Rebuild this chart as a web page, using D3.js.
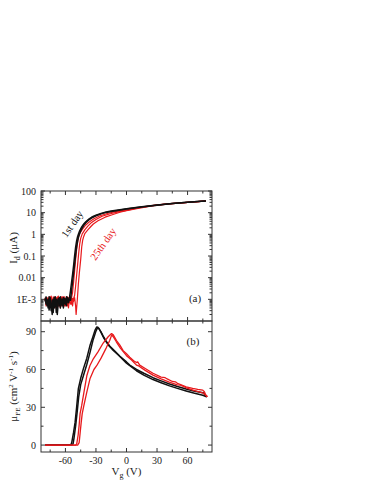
<!DOCTYPE html>
<html>
<head>
<meta charset="utf-8">
<script src="https://cdn.jsdelivr.net/npm/d3@7"></script>
<style>
  body { margin: 0; background: #fff; }
  text { font-family: "Liberation Serif", "DejaVu Serif", serif; fill: #222; }
</style>
</head>
<body>
<div id="chart"></div>
<script>
// gate voltage ticks
var xMajor = [-60, -30, 0, 30, 60];
var xMinor = [-75, -45, -15, 15, 45, 75];
var idTicks = [1e-3, 0.01, 0.1, 1, 10, 100];
var idTickLabels = ["1E-3", "0.01", "0.1", "1", "10", "100"];
var muMajor = [0, 30, 60, 90];
var muMinor = [15, 45, 75];

// (a) transfer curves, [Vg (V), Id (uA)]
var idBlackA = [[-80,8e-4],[-79,1.3e-3],[-78,5e-4],[-77,1e-3],[-76,3.2e-4],[-75,1.2e-3],[-74,6e-4],[-73,2e-4],[-72,1e-3],[-71,4e-4],[-70,1.3e-3],[-69,2.5e-4],[-68,8e-4],[-67,1.1e-3],[-66,5e-4],[-65,1.3e-3],[-64,6e-4],[-63,1e-3],[-62,4e-4],[-61,1.1e-3],[-60,6e-4],[-59,1.3e-3],[-58,8e-4],[-57,1e-3],[-56,1.2e-3],
  [-55,2.5e-3],[-54,6e-3],[-53,0.014],[-52,0.035],[-51,0.1],[-50,0.25],[-49,0.5],[-48,0.8],[-47,1.1],[-46,1.45],[-44,2.2],[-42,3.0],[-40,3.8],[-37,5.0],[-34,6.3],[-30,7.6],[-25,9.3],[-20,10.8],[-15,11.8],[-10,12.8],[-3,14.5],[0,15.3],[13,18.5],[30,22.5],[45,26.5],[60,30],[70,32.5],[78,35]];
var idBlackB = [[-80,1.1e-3],[-79,6e-4],[-78,9e-4],[-77,4e-4],[-76,1.3e-3],[-75,7e-4],[-74,3e-4],[-73,9e-4],[-72,2.5e-4],[-71,1.2e-3],[-70,5e-4],[-69,1e-3],[-68,2e-4],[-67,7e-4],[-66,1.2e-3],[-65,4e-4],[-64,1e-3],[-63,5e-4],[-62,1.2e-3],[-61,7e-4],[-60,1e-3],[-59,5e-4],[-58,1.2e-3],[-57,7e-4],[-56,1e-3],[-55,9e-4],
  [-54,2.5e-3],[-53,6e-3],[-52,0.016],[-51,0.04],[-50,0.11],[-49,0.27],[-48,0.5],[-47,0.8],[-46,1.1],[-44,1.8],[-42,2.6],[-40,3.4],[-37,4.6],[-34,5.8],[-30,7.2],[-25,8.8],[-20,10.3],[-15,11.4],[-10,12.4],[-3,14],[0,14.8],[13,18],[30,22.2],[45,26.3],[60,30],[70,32.5],[78,35]];
var idRedA = [[-80,1.2e-3],[-79,5e-4],[-78,1e-3],[-77,7e-4],[-76,1.3e-3],[-75,5e-4],[-74,1.1e-3],[-73,6e-4],[-72,1.3e-3],[-71,7e-4],[-70,4e-4],[-69,1.2e-3],[-68,6e-4],[-67,1.4e-3],[-66,8e-4],[-65,4e-4],[-64,1.2e-3],[-63,7e-4],[-62,1.3e-3],[-61,5e-4],[-60,1.1e-3],[-59,7e-4],[-58,1.3e-3],[-57,4e-4],[-56,1e-3],[-55,1.3e-3],[-54,6e-4],[-53,1.1e-3],[-52,8e-4],[-51,1.2e-3],[-50,5e-4],[-49.5,2e-4],
  [-48.3,1e-3],[-47.3,5e-3],[-46.3,0.017],[-45,0.07],[-44,0.26],[-43,0.55],[-42,0.8],[-40.8,1.12],[-38,1.6],[-35,2.3],[-32.6,3.0],[-28,4.2],[-21,6.2],[-14,8.0],[-6.5,10.5],[0,12.3],[10,15.5],[25,20.5],[40,25],[60,30],[70,32.5],[78,35]];
var idRedB = [[-80,9e-4],[-79,1.2e-3],[-78,6e-4],[-77,1.1e-3],[-76,5e-4],[-75,1e-3],[-74,1.4e-3],[-73,7e-4],[-72,4e-4],[-71,1e-3],[-70,1.2e-3],[-69,6e-4],[-68,1e-3],[-67,5e-4],[-66,1.2e-3],[-65,9e-4],[-64,5e-4],[-63,1.3e-3],[-62,7e-4],[-61,1e-3],[-60,5e-4],[-59,1.2e-3],[-58,6e-4],[-57,1e-3],[-56,7e-4],[-55,1.2e-3],[-54,9e-4],[-53,5e-4],[-52,1.1e-3],
  [-51,1.5e-3],[-50,4e-3],[-49,0.013],[-48,0.04],[-47,0.13],[-46,0.35],[-45,0.65],[-43.5,1.05],[-41,1.6],[-38,2.4],[-35,3.3],[-30,4.8],[-24,6.8],[-16,8.9],[-8,10.9],[0,12.8],[10,16],[25,21],[40,25.3],[60,30],[70,32.5],[78,35]];
var idRedC = [[-80,1e-3],[-79,7e-4],[-78,1.2e-3],[-77,6e-4],[-76,9e-4],[-75,1.3e-3],[-74,5e-4],[-73,1e-3],[-72,8e-4],[-71,1.3e-3],[-70,6e-4],[-69,9e-4],[-68,1.3e-3],[-67,5e-4],[-66,1e-3],[-65,7e-4],[-64,1.3e-3],[-63,6e-4],[-62,9e-4],[-61,1.3e-3],[-60,7e-4],[-59,1e-3],[-58,5e-4],[-57,1.2e-3],[-56,8e-4],[-55,6e-4],[-54,1.2e-3],
  [-53,2e-3],[-52,6e-3],[-51,0.02],[-50,0.07],[-49,0.2],[-48,0.45],[-47,0.8],[-45.5,1.2],[-43,1.8],[-40,2.7],[-37,3.6],[-32,5.2],[-26,7.2],[-18,9.4],[-10,11.3],[0,13.3],[10,16.5],[25,21.3],[40,25.5],[60,30],[70,32.5],[78,35]];

// (b) field-effect mobility, [Vg (V), mu (cm2/Vs)]
var muBlackA = [[-80,0],[-56,0],[-54.5,0.5],[-53.8,2],[-52,10],[-50.5,18],[-49,30],[-47.3,44.7],[-45,53],[-42.4,60.5],[-39,69],[-35.9,79],[-33,86],[-31,91],[-29.3,93.7],[-28,93.5],[-25.5,90.5],[-22.9,86.5],[-20,82.5],[-16.3,78.5],[-12,75],[-6.5,70.5],[0,66],[3.2,63.5],[9.8,60],[17,57],[26,53.5],[34,51],[42.3,48.5],[50,46.5],[58.6,44.5],[66,43],[74.9,41.5],[76,41.3],[77,39.5],[78.8,38.3]];
var muBlackB = [[-80,0],[-54,0],[-52.5,1],[-51.5,6],[-50,15],[-48.5,26],[-47,38],[-45,48],[-42,56],[-39,64],[-36,73],[-33,83],[-30,90.5],[-28.5,93],[-27,92.5],[-25,89.5],[-22,84.5],[-18,79.5],[-14,76],[-8,71.5],[0,65],[9.8,59],[17,55.5],[26,52],[34,49.5],[42.3,47],[50,45],[58.6,43],[66,41.3],[74.9,39.5],[78.8,38.3]];
var muRedA = [[-80,0],[-50,0],[-48.9,1],[-47.5,8],[-46.5,16],[-45.6,25],[-44,31.5],[-42,41],[-39,55],[-36,63],[-32.6,68.5],[-28,74],[-22.9,81],[-18,86],[-14.7,88.5],[-13,87.5],[-9.8,83],[-6.5,79.4],[-3.3,75],[0,72.5],[3.2,69.8],[7,67],[9.8,65.5],[11,66],[13,63.5],[18,61],[26,57],[34,54],[38,53.5],[40,52.5],[45,50.5],[48,50.2],[50,49],[55,47.5],[58.6,46.2],[65,45],[70,44.2],[74.9,43.6],[76.5,42.3],[78,39.5],[79.5,38.3]];
var muRedB = [[-80,0],[-48,0],[-46.5,2],[-45.5,10],[-44.5,18],[-43.5,25],[-42,31],[-39,42],[-35.9,52.6],[-32,60],[-29.3,63],[-25,69],[-20,77],[-16.5,83],[-14.5,87.5],[-13,86],[-10,82],[-6,77],[-2,73],[0,71],[5,67.5],[9.8,63.5],[12,62.8],[18,59.5],[26,55.5],[34,52.5],[42,50],[50,47.8],[53,47.6],[58.6,45.5],[66,43.5],[74.9,41.5],[78,39.5],[79.5,38.3]];

var W = 374, H = 484;
var left = 41, right = 212;
var topA = 191, botA = 321, topB = 321, botB = 452;
var black = "#111", red = "#e8191c", frameColor = "#333";

var svg = d3.select("#chart").append("svg")
    .attr("width", W)
    .attr("height", H);

var x = d3.scaleLinear().domain([-84, 84]).range([left, right]);
var yA = d3.scaleLog().domain([1e-4, 100]).range([botA, topA]);
var yB = d3.scaleLinear().domain([-5.5, 98.5]).range([botB, topB]);

// minor log ticks 2..9 per decade
var idMinor = [];
[1e-4, 1e-3, 0.01, 0.1, 1, 10].forEach(function (d) {
    for (var k = 2; k <= 9; k++) idMinor.push(d * k);
});

function panel(y, yTop, yBot, yMaj, yMin) {
    var g = svg.append("g");
    // ticks inward on all four sides
    function xt(vals, len) {
        vals.forEach(function (v) {
            g.append("line").attr("x1", x(v)).attr("x2", x(v))
                .attr("y1", yBot).attr("y2", yBot - len);
            g.append("line").attr("x1", x(v)).attr("x2", x(v))
                .attr("y1", yTop).attr("y2", yTop + len);
        });
    }
    function yt(vals, len) {
        vals.forEach(function (v) {
            g.append("line").attr("x1", left).attr("x2", left + len)
                .attr("y1", y(v)).attr("y2", y(v));
            g.append("line").attr("x1", right).attr("x2", right - len)
                .attr("y1", y(v)).attr("y2", y(v));
        });
    }
    xt(xMajor, 4);
    xt(xMinor, 2.5);
    yt(yMaj, 4);
    yt(yMin, 2.5);
    g.selectAll("line").attr("stroke", frameColor).attr("stroke-width", 1);
    svg.append("rect")
        .attr("x", left).attr("y", yTop)
        .attr("width", right - left).attr("height", yBot - yTop)
        .attr("fill", "none").attr("stroke", frameColor).attr("stroke-width", 1);
}

panel(yA, topA, botA, idTicks, idMinor);
panel(yB, topB, botB, muMajor, muMinor);

var clipA = svg.append("clipPath").attr("id", "clipA").append("rect")
    .attr("x", left).attr("y", topA).attr("width", right - left).attr("height", botA - topA);
var clipB = svg.append("clipPath").attr("id", "clipB").append("rect")
    .attr("x", left).attr("y", topB).attr("width", right - left).attr("height", botB - topB);

var lineA = d3.line().x(function (d) { return x(d[0]); }).y(function (d) { return yA(d[1]); });
var lineB = d3.line().x(function (d) { return x(d[0]); }).y(function (d) { return yB(d[1]); });

var seriesA = [
    { data: idRedA, color: red, w: 1.2 },
    { data: idRedB, color: red, w: 1.2 },
    { data: idRedC, color: red, w: 1.2 },
    { data: idBlackA, color: black, w: 1.5 },
    { data: idBlackB, color: black, w: 1.5 }
];
var seriesB = [
    { data: muBlackA, color: black, w: 1.5 },
    { data: muBlackB, color: black, w: 1.5 },
    { data: muRedA, color: red, w: 1.3 },
    { data: muRedB, color: red, w: 1.3 }
];

svg.append("g").attr("clip-path", "url(#clipA)")
    .selectAll("path").data(seriesA).enter().append("path")
    .attr("d", function (s) { return lineA(s.data); })
    .attr("fill", "none")
    .attr("stroke", function (s) { return s.color; })
    .attr("stroke-width", function (s) { return s.w; })
    .attr("stroke-linejoin", "round");

svg.append("g").attr("clip-path", "url(#clipB)")
    .selectAll("path").data(seriesB).enter().append("path")
    .attr("d", function (s) { return lineB(s.data); })
    .attr("fill", "none")
    .attr("stroke", function (s) { return s.color; })
    .attr("stroke-width", function (s) { return s.w; })
    .attr("stroke-linejoin", "round");

// tick labels
svg.selectAll(".idlab").data(idTicks).enter().append("text")
    .attr("x", left - 5)
    .attr("y", function (d) { return yA(d) + 3.5; })
    .attr("text-anchor", "end")
    .attr("font-size", "10px")
    .text(function (d, i) { return idTickLabels[i]; });

svg.selectAll(".mulab").data(muMajor).enter().append("text")
    .attr("x", left - 5)
    .attr("y", function (d) { return yB(d) + 3.5; })
    .attr("text-anchor", "end")
    .attr("font-size", "10px")
    .text(function (d) { return d; });

svg.selectAll(".xlab").data(xMajor).enter().append("text")
    .attr("x", function (d) { return x(d); })
    .attr("y", botB + 12)
    .attr("text-anchor", "middle")
    .attr("font-size", "10px")
    .text(function (d) { return d; });

// axis titles
var tA = svg.append("text")
    .attr("transform", "translate(17," + ((topA + botA) / 2 - 8) + ") rotate(-90)")
    .attr("text-anchor", "middle")
    .attr("font-size", "11px");
tA.append("tspan").text("I");
tA.append("tspan").attr("font-size", "8px").attr("dy", 3).text("d");
tA.append("tspan").attr("dy", -3).text(" (\u03bcA)");

var tB = svg.append("text")
    .attr("transform", "translate(17," + ((topB + botB) / 2) + ") rotate(-90)")
    .attr("text-anchor", "middle")
    .attr("font-size", "11px");
tB.append("tspan").text("\u03bc");
tB.append("tspan").attr("font-size", "7px").attr("dy", 3).text("FE");
tB.append("tspan").attr("dy", -3).text(" (cm");
tB.append("tspan").attr("font-size", "7px").attr("dy", -4).text("2");
tB.append("tspan").attr("dy", 4).text(" V");
tB.append("tspan").attr("font-size", "7px").attr("dy", -4).text("-1");
tB.append("tspan").attr("dy", 4).text(" s");
tB.append("tspan").attr("font-size", "7px").attr("dy", -4).text("-1");
tB.append("tspan").attr("dy", 4).text(")");

var tX = svg.append("text")
    .attr("x", (left + right) / 2)
    .attr("y", botB + 23)
    .attr("text-anchor", "middle")
    .attr("font-size", "11px");
tX.append("tspan").text("V");
tX.append("tspan").attr("font-size", "8px").attr("dy", 3).text("g");
tX.append("tspan").attr("dy", -3).text(" (V)");

// panel labels and annotations
svg.append("text").attr("x", 195).attr("y", 302)
    .attr("text-anchor", "middle").attr("font-size", "11px").text("(a)");
svg.append("text").attr("x", 193).attr("y", 345)
    .attr("text-anchor", "middle").attr("font-size", "11px").text("(b)");

svg.append("text")
    .attr("transform", "translate(75,226) rotate(-55)")
    .attr("text-anchor", "middle").attr("font-size", "10.5px")
    .style("fill", black).text("1st day");
svg.append("text")
    .attr("transform", "translate(106,246) rotate(-55)")
    .attr("text-anchor", "middle").attr("font-size", "10.5px")
    .style("fill", red).text("25th day");
</script>
</body>
</html>
